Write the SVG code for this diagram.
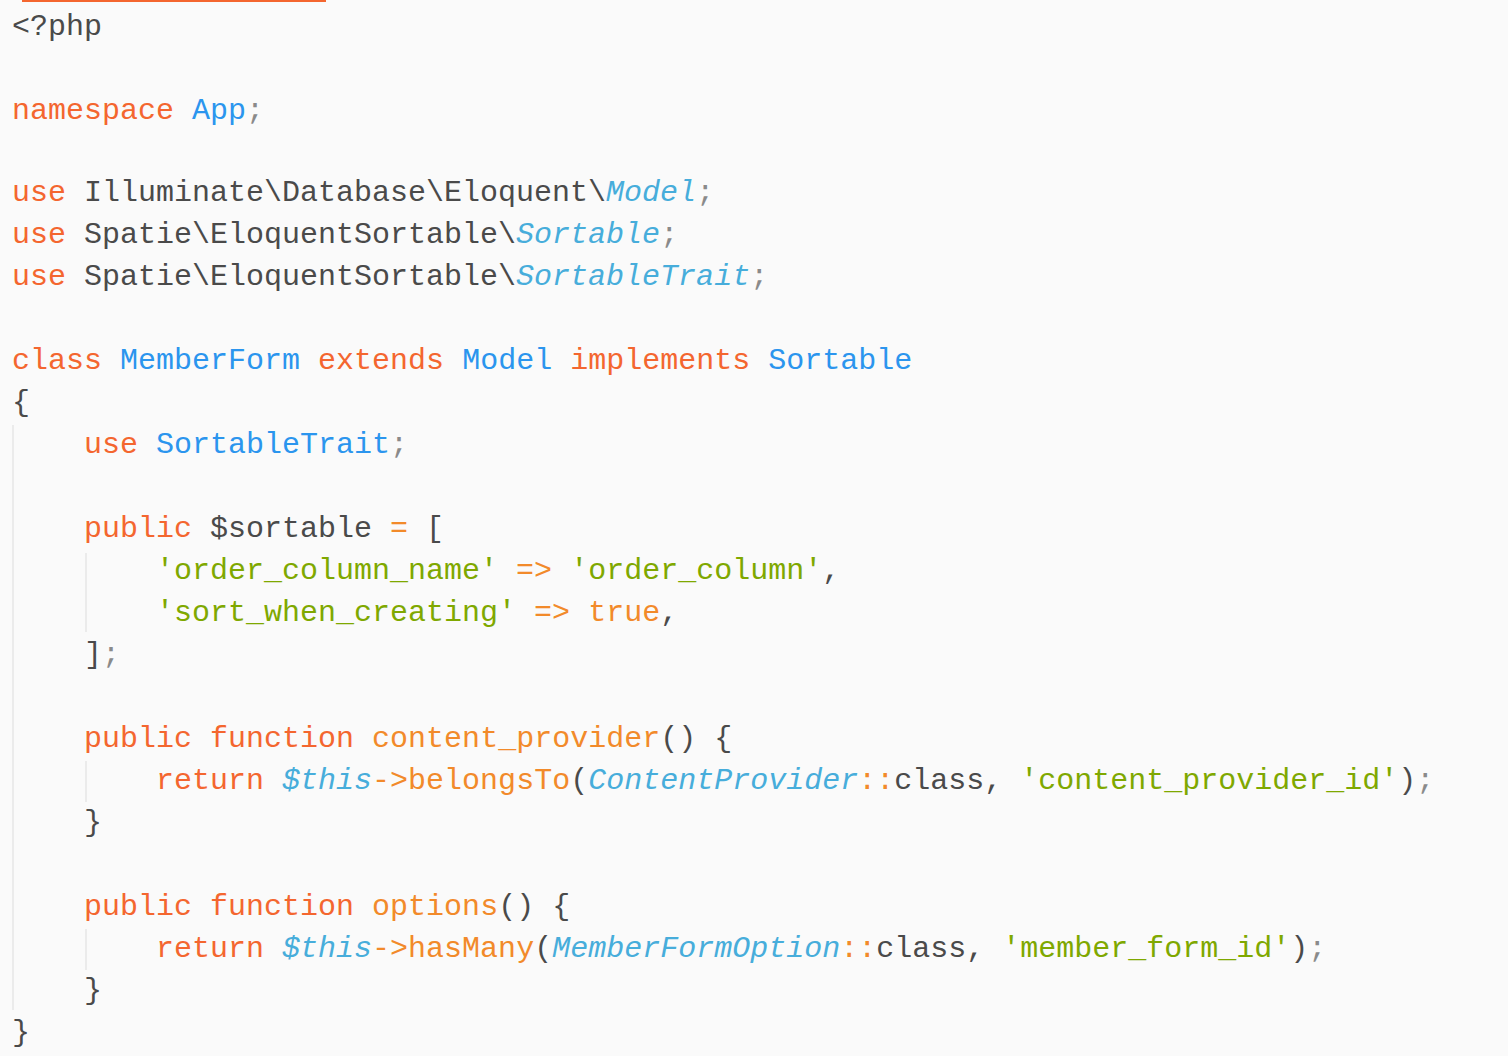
<svg xmlns="http://www.w3.org/2000/svg" width="1508" height="1056" viewBox="0 0 1508 1056">
<style>
text{font-family:"Liberation Mono","DejaVu Sans Mono",monospace;font-size:30px;fill:#4a4a4a;white-space:pre}
.k{fill:#f4662f}.f{fill:#f28a2a}.b{fill:#2b95ee}.i{fill:#47addb;font-style:italic}.g{fill:#7fa800}.p{fill:#8a8a8a}
.guide{stroke:#e6e6e6;stroke-width:1.5}
</style>
<rect width="1508" height="1056" fill="#fafafa"/>
<rect x="22" y="0" width="304" height="2" fill="#f4662f"/>
<g id="guides">
<line class="guide" x1="13" y1="425" x2="13" y2="1010"/>
<line class="guide" x1="86" y1="553" x2="86" y2="632"/>
<line class="guide" x1="86" y1="761" x2="86" y2="802"/>
<line class="guide" x1="86" y1="929" x2="86" y2="970"/>
</g>
<g id="code" xml:space="preserve" transform="translate(0,2)">
<text x="12" y="33">&lt;?php</text>
<text x="12" y="117"><tspan class="k">namespace</tspan> <tspan class="b">App</tspan><tspan class="p">;</tspan></text>
<text x="12" y="199"><tspan class="k">use</tspan> Illuminate\Database\Eloquent\<tspan class="i">Model</tspan><tspan class="p">;</tspan></text>
<text x="12" y="241"><tspan class="k">use</tspan> Spatie\EloquentSortable\<tspan class="i">Sortable</tspan><tspan class="p">;</tspan></text>
<text x="12" y="283"><tspan class="k">use</tspan> Spatie\EloquentSortable\<tspan class="i">SortableTrait</tspan><tspan class="p">;</tspan></text>
<text x="12" y="367"><tspan class="k">class</tspan> <tspan class="b">MemberForm</tspan> <tspan class="k">extends</tspan> <tspan class="b">Model</tspan> <tspan class="k">implements</tspan> <tspan class="b">Sortable</tspan></text>
<text x="12" y="409">{</text>
<text x="12" y="451">    <tspan class="k">use</tspan> <tspan class="b">SortableTrait</tspan><tspan class="p">;</tspan></text>
<text x="12" y="535">    <tspan class="k">public</tspan> $sortable <tspan class="f">=</tspan> [</text>
<text x="12" y="577">        <tspan class="g">'order_column_name'</tspan> <tspan class="f">=&gt;</tspan> <tspan class="g">'order_column'</tspan>,</text>
<text x="12" y="619">        <tspan class="g">'sort_when_creating'</tspan> <tspan class="f">=&gt;</tspan> <tspan class="f">true</tspan>,</text>
<text x="12" y="661">    ]<tspan class="p">;</tspan></text>
<text x="12" y="745">    <tspan class="k">public</tspan> <tspan class="k">function</tspan> <tspan class="f">content_provider</tspan>() {</text>
<text x="12" y="787">        <tspan class="k">return</tspan> <tspan class="i">$this</tspan><tspan class="f">-&gt;</tspan><tspan class="f">belongsTo</tspan>(<tspan class="i">ContentProvider</tspan><tspan class="f">::</tspan>class, <tspan class="g">'content_provider_id'</tspan>)<tspan class="p">;</tspan></text>
<text x="12" y="829">    }</text>
<text x="12" y="913">    <tspan class="k">public</tspan> <tspan class="k">function</tspan> <tspan class="f">options</tspan>() {</text>
<text x="12" y="955">        <tspan class="k">return</tspan> <tspan class="i">$this</tspan><tspan class="f">-&gt;</tspan><tspan class="f">hasMany</tspan>(<tspan class="i">MemberFormOption</tspan><tspan class="f">::</tspan>class, <tspan class="g">'member_form_id'</tspan>)<tspan class="p">;</tspan></text>
<text x="12" y="997">    }</text>
<text x="12" y="1039">}</text>
</g>
</svg>
